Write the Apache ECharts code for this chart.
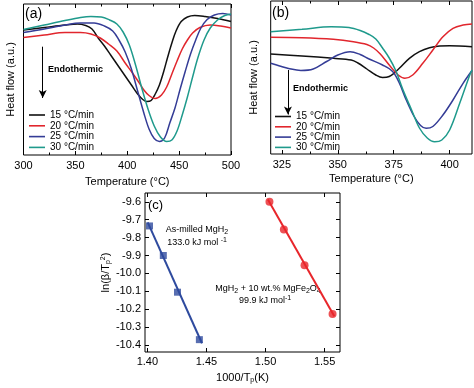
<!DOCTYPE html>
<html><head><meta charset="utf-8">
<script src="https://cdn.jsdelivr.net/npm/echarts@6/dist/echarts.min.js"></script>
<style>html,body{margin:0;padding:0;background:#fff}#c{width:474px;height:388px}</style>
</head><body><div id="c"></div>
<script>
// ---------- data ----------
const rateNames = ['15 °C/min', '20 °C/min', '25 °C/min', '30 °C/min'];
const rateColors = ['#111111', '#e1262d', '#343c96', '#1f9a8c'];

// panel (a): as-milled MgH2, temperature (°C) vs heat flow (a.u.)
const a15T = [300,320,340,352,360,366,372,378,384,392,398,404,410,415,419,423,427,431,435,439,443,447,452,458,465,475,487,500];
const a15H = [125,127.5,130,131,129.5,126,117,109,100,88,79,70,61,55.5,53.5,54.5,61,70,83,98,112,124,133.5,138,139.5,138.5,136.5,133.5];
const a20T = [300,320,340,355,365,374,382,390,398,405,411,416,421,427,433,438,443,448,453,458,463,470,480,490,500];
const a20H = [117.5,120,122.5,122.5,121,117,111,104,92,82,73,65,59.5,56.5,60,68,81,94,106,115,122,127.5,130,129,127];
const a25T = [300,320,340,355,368,378,386,392,398,404,410,416,421,426,431,436,441,446,451,456,461,466,471,477,484,492,500];
const a25H = [122.5,126,130,132,132,129,124,115,103,86,64,42,26,16.5,13.5,17,32,47,66,84,101,115,127,135.5,140,141.5,140];
const a30T = [300,320,340,355,365,375,383,390,396,402,408,414,420,426,432,438,443,448,453,458,463,468,474,480,487,494,500];
const a30H = [125.5,130,134.5,137.5,138.5,138,135,131,123,110,90,67,46,29,18,13.5,15,24,40,58,78,97,115,127,135,139.5,141];

// panel (b): MgH2 + 10 wt.% MgFe2O4
const b15T = [320,334,348,356,359,363,367,370,373,377.5,382,386.5,391,395.5,400,410];
const b15H = [100,98,95.7,94,91,85,79,76.5,77.5,85.7,95.7,102.3,106.3,108,108.3,107.3];
const b20T = [320,334,348,357,363,366,369,373,377,380,383.5,388,392.5,397,401.5,406,410];
const b20H = [116.7,116.3,114.7,112.3,109.5,106,100,89,79,75.7,79,90.7,104,117.3,125.7,129,130];
const b25T = [320,324,328,333.5,339,345,350,355.5,360,364,370,374.5,377.5,380.5,384,387,389.5,392.5,397,401.5,406,410];
const b25H = [90.7,88,85.5,83.5,85,92.5,99,102.3,99.5,95,89,82.5,71,54.5,38,28.5,25.7,27.5,39,54,70.7,83.5];
const b30T = [320,334,347,355,360,364,367,370,373,376,379,383,386.5,390,393.3,396.5,400,404.5,409,410];
const b30H = [122.3,124.7,127.3,126.5,123.5,119.5,115,106,96,83,65,44,26,16,12.3,14,24,50.7,79,84];

// panel (c): Kissinger plot
const cBlueX = [1.4018, 1.4135, 1.4255, 1.4440];
const cBlueY = [-9.735, -9.90, -10.105, -10.37];
const cBlueFitX = [1.4003, 1.4462];
const cBlueFitY = [-9.715, -10.39];
const cRedX = [1.5033, 1.5155, 1.5330, 1.5567];
const cRedY = [-9.60, -9.755, -9.955, -10.227];
const cRedFitX = [1.5020, 1.5582];
const cRedFitY = [-9.587, -10.239];

// tick labels
const aXTicks = [300, 350, 400, 450, 500];
const bXTicks = [325, 350, 375, 400];
const bXMinor = [337.5, 362.5, 387.5];
const cXTicks = [1.40, 1.45, 1.50, 1.55];
const cYTicks = [-9.6, -9.7, -9.8, -9.9, -10.0, -10.1, -10.2, -10.3, -10.4];

// ---------- chart ----------
const FF = 'Liberation Sans, Arial, sans-serif';
const zip = (xs, ys) => xs.map((x, i) => [x, ys[i]]);
const chart = echarts.init(document.getElementById('c'), null, {renderer: 'canvas'});

const hidden = {show: false};
const tickIn = (len, vals) => Object.assign({show: true, inside: true, length: len, lineStyle: {color: '#000', width: 1}}, vals ? {customValues: vals} : {});
const noLine = {show: false, onZero: false};
const lbl = (vals, fmt, margin) => Object.assign({show: true, color: '#000', fontSize: 11, fontFamily: FF, margin: margin}, vals ? {customValues: vals} : {}, fmt ? {formatter: fmt} : {});
const titleStyle = {color: '#000', fontSize: 11, fontFamily: FF};

const subRich = {
  s: {fontSize: 7, fontFamily: FF, color: '#000', verticalAlign: 'bottom', lineHeight: 12},
  u: {fontSize: 7, fontFamily: FF, color: '#000', verticalAlign: 'top', lineHeight: 12}
};

const aData = [[a15T, a15H], [a20T, a20H], [a25T, a25H], [a30T, a30H]];
const bData = [[b15T, b15H], [b20T, b20H], [b25T, b25H], [b30T, b30H]];

const arrowLine = (x, y1, y2) => ({
  silent: true, symbol: ['none', 'arrow'], symbolSize: [6, 8], animation: false,
  lineStyle: {color: '#000', width: 1, type: 'solid'}, label: {show: false},
  data: [[{coord: [x, y1]}, {coord: [x, y2]}]]
});

const series = [];
aData.forEach((d, i) => {
  const s = {type: 'line', name: rateNames[i], xAxisIndex: 0, yAxisIndex: 0, data: zip(d[0], d[1]),
    symbol: 'none', smooth: 0.35, lineStyle: {width: 1.5, color: rateColors[i]}, itemStyle: {color: rateColors[i]}, z: 3};
  if (i === 0) s.markLine = arrowLine(318.5, 108.3, 57);
  series.push(s);
});
bData.forEach((d, i) => {
  const s = {type: 'line', name: rateNames[i], xAxisIndex: 2, yAxisIndex: 1, data: zip(d[0], d[1]),
    symbol: 'none', smooth: 0.35, lineStyle: {width: 1.5, color: rateColors[i]}, itemStyle: {color: rateColors[i]}, z: 3};
  if (i === 0) s.markLine = arrowLine(327.7, 84, 39.5);
  series.push(s);
});
series.push(
  {type: 'line', name: 'blueFit', xAxisIndex: 6, yAxisIndex: 2, data: zip(cBlueFitX, cBlueFitY), symbol: 'none', lineStyle: {width: 2, color: '#2e4a9e'}, z: 2},
  {type: 'scatter', name: 'blue', xAxisIndex: 6, yAxisIndex: 2, data: zip(cBlueX, cBlueY), symbol: 'rect', symbolSize: 7, itemStyle: {color: '#2e4a9e'}, z: 3},
  {type: 'line', name: 'redFit', xAxisIndex: 6, yAxisIndex: 2, data: zip(cRedFitX, cRedFitY), symbol: 'none', lineStyle: {width: 2, color: '#e8262b'}, z: 2},
  {type: 'scatter', name: 'red', xAxisIndex: 6, yAxisIndex: 2, data: zip(cRedX, cRedY), symbol: 'circle', symbolSize: 8, itemStyle: {color: '#e8262b'}, z: 3}
);

const gridBase = {show: true, borderColor: '#000', borderWidth: 1, backgroundColor: 'transparent', containLabel: false};
const legendBase = {data: rateNames, orient: 'vertical', icon: 'rect', itemWidth: 16, itemHeight: 1.6, padding: 0,
  selectedMode: false, textStyle: {fontSize: 10, color: '#000', fontFamily: FF, lineHeight: 10}};

const option = {
  animation: false,
  backgroundColor: '#fff',
  textStyle: {fontFamily: FF},
  grid: [
    Object.assign({left: 23.5, top: 4, width: 207.5, height: 151}, gridBase),
    Object.assign({left: 270.7, top: 1, width: 201.3, height: 153}, gridBase),
    Object.assign({left: 145, top: 193, width: 195, height: 159}, gridBase)
  ],
  xAxis: [
    {type: 'value', gridIndex: 0, position: 'bottom', min: 300, max: 500, interval: 50,
     axisLine: noLine, axisTick: tickIn(4), minorTick: {show: true, splitNumber: 2, length: 2.5, lineStyle: {color: '#000'}},
     axisLabel: lbl(null, null, 5), splitLine: hidden, minorSplitLine: hidden,
     name: 'Temperature (°C)', nameLocation: 'middle', nameGap: 21, nameTextStyle: titleStyle},
    {type: 'value', gridIndex: 0, position: 'top', min: 300, max: 500, interval: 50,
     axisLine: noLine, axisTick: tickIn(4), minorTick: {show: true, splitNumber: 2, length: 2.5, lineStyle: {color: '#000'}},
     axisLabel: hidden, splitLine: hidden, minorSplitLine: hidden},
    {type: 'value', gridIndex: 1, position: 'bottom', min: 320, max: 410,
     axisLine: noLine, axisTick: tickIn(4, bXTicks), axisLabel: lbl(bXTicks, null, 5), splitLine: hidden,
     name: 'Temperature (°C)', nameLocation: 'middle', nameGap: 19, nameTextStyle: titleStyle},
    {type: 'value', gridIndex: 1, position: 'bottom', min: 320, max: 410,
     axisLine: noLine, axisTick: tickIn(2.5, bXMinor), axisLabel: hidden, splitLine: hidden},
    {type: 'value', gridIndex: 1, position: 'top', min: 320, max: 410,
     axisLine: noLine, axisTick: tickIn(4, bXTicks), axisLabel: hidden, splitLine: hidden},
    {type: 'value', gridIndex: 1, position: 'top', min: 320, max: 410,
     axisLine: noLine, axisTick: tickIn(2.5, bXMinor), axisLabel: hidden, splitLine: hidden},
    {type: 'value', gridIndex: 2, position: 'bottom', min: 1.398, max: 1.563,
     axisLine: noLine, axisTick: tickIn(4, cXTicks), axisLabel: lbl(cXTicks, v => v.toFixed(2), 4), splitLine: hidden,
     name: '1000/T{s|p}(K)', nameLocation: 'middle', nameGap: 20,
     nameTextStyle: Object.assign({rich: subRich, lineHeight: 12}, titleStyle)},
    {type: 'value', gridIndex: 2, position: 'top', min: 1.398, max: 1.563,
     axisLine: noLine, axisTick: tickIn(4, cXTicks), axisLabel: hidden, splitLine: hidden}
  ],
  yAxis: [
    {type: 'value', gridIndex: 0, min: 0, max: 151, axisLine: noLine, axisTick: hidden, axisLabel: hidden, splitLine: hidden,
     name: 'Heat flow (a.u.)', nameLocation: 'middle', nameGap: 7, nameTextStyle: titleStyle},
    {type: 'value', gridIndex: 1, min: 0, max: 153, axisLine: noLine, axisTick: hidden, axisLabel: hidden, splitLine: hidden,
     name: 'Heat flow (a.u.)', nameLocation: 'middle', nameGap: 11, nameTextStyle: titleStyle},
    {type: 'value', gridIndex: 2, position: 'left', min: -10.439, max: -9.551,
     axisLine: noLine, axisTick: tickIn(4, cYTicks), axisLabel: lbl(cYTicks, v => v.toFixed(1), 4), splitLine: hidden,
     name: 'ln(β/T{s|p}{u|2})', nameLocation: 'middle', nameGap: 33,
     nameTextStyle: Object.assign({rich: subRich, lineHeight: 12}, titleStyle)},
    {type: 'value', gridIndex: 2, position: 'right', min: -10.439, max: -9.551,
     axisLine: noLine, axisTick: tickIn(4, cYTicks), axisLabel: hidden, splitLine: hidden}
  ],
  legend: [
    Object.assign({left: 29, top: 110, itemGap: 0.8}, legendBase),
    Object.assign({left: 275, top: 111.5, itemGap: 0.3}, legendBase)
  ],
  graphic: [
    {type: 'text', x: 25, y: 14, style: {text: '(a)', fontSize: 14, fontFamily: FF, fill: '#000', verticalAlign: 'middle'}},
    {type: 'text', x: 48, y: 70, style: {text: 'Endothermic', fontSize: 9, fontWeight: 'bold', fontFamily: FF, fill: '#000', verticalAlign: 'middle'}},
    {type: 'text', x: 272, y: 13, style: {text: '(b)', fontSize: 14, fontFamily: FF, fill: '#000', verticalAlign: 'middle'}},
    {type: 'text', x: 293, y: 89, style: {text: 'Endothermic', fontSize: 9, fontWeight: 'bold', fontFamily: FF, fill: '#000', verticalAlign: 'middle'}},
    {type: 'text', x: 148, y: 205, style: {text: '(c)', fontSize: 13, fontFamily: FF, fill: '#000', verticalAlign: 'middle'}},
    {type: 'text', x: 197, y: 230, style: {text: 'As-milled MgH{s|2}', rich: subRich, fontSize: 9, lineHeight: 12, fontFamily: FF, fill: '#000', align: 'center', verticalAlign: 'middle'}},
    {type: 'text', x: 197, y: 243, style: {text: '133.0 kJ mol {u|-1}', rich: subRich, fontSize: 9, lineHeight: 12, fontFamily: FF, fill: '#000', align: 'center', verticalAlign: 'middle'}},
    {type: 'text', x: 268, y: 289, style: {text: 'MgH{s|2} + 10 wt.% MgFe{s|2}O{s|4}', rich: subRich, fontSize: 9, lineHeight: 12, fontFamily: FF, fill: '#000', align: 'center', verticalAlign: 'middle'}},
    {type: 'text', x: 265, y: 301, style: {text: '99.9 kJ mol{u|-1}', rich: subRich, fontSize: 9, lineHeight: 12, fontFamily: FF, fill: '#000', align: 'center', verticalAlign: 'middle'}}
  ],
  series: series
};
chart.setOption(option);
</script></body></html>
